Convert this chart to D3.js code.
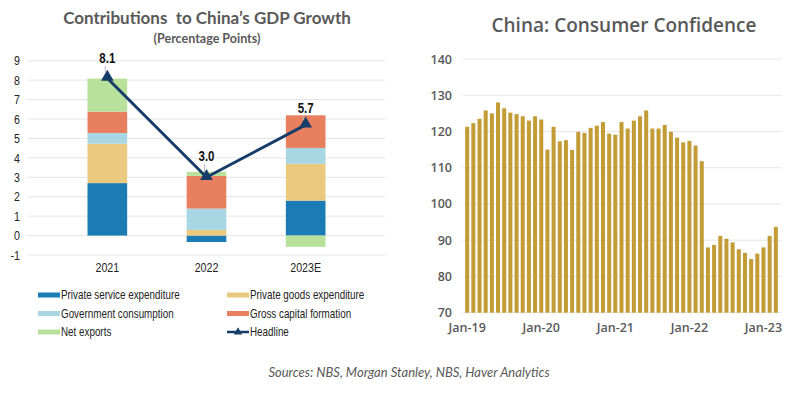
<!DOCTYPE html>
<html>
<head>
<meta charset="utf-8">
<script src="https://cdn.jsdelivr.net/npm/d3@7"></script>
<style>
  body { margin: 0; background: #fff; }
  svg { display: block; }
</style>
</head>
<body>
<svg id="chart" width="800" height="393"></svg>
<script>
// ---- left chart data: contributions to GDP growth (pp) ----
var years = ["2021", "2022", "2023E"];
var seriesNames = ["Private service expenditure", "Private goods expenditure",
                   "Government consumption", "Gross capital formation", "Net exports"];
var privateService = [2.7, -0.33, 1.8];
var privateGoods   = [2.03, 0.29, 1.89];
var govConsumption = [0.55, 1.1, 0.82];
var grossCapital   = [1.1, 1.68, 1.68];
var netExports     = [1.7, 0.21, -0.58];
var headline       = [8.1, 3.0, 5.7];
var leftTicks      = [-1, 0, 1, 2, 3, 4, 5, 6, 7, 8, 9];

// ---- right chart data: consumer confidence, Jan-19 .. Mar-23 ----
var confidence = [
  121.3, 122.3, 123.5, 125.8, 125.0, 128.0, 126.4, 125.2, 124.8, 124.2, 123.0, 124.2,
  123.3, 115.0, 121.3, 117.3, 117.6, 114.9, 119.9, 119.6, 121.0, 121.6, 122.6, 119.4,
  119.1, 122.6, 120.8, 123.0, 124.2, 125.8, 120.8, 120.8, 121.8, 119.9, 118.3, 117.0,
  117.4, 116.1, 111.8, 88.0, 88.7, 91.2, 90.4, 89.4, 87.5, 86.5, 84.8, 86.3,
  88.0, 91.2, 93.7
];
var rightTicks = [70, 80, 90, 100, 110, 120, 130, 140];
var rightTickLabels = ["Jan-19", "Jan-20", "Jan-21", "Jan-22", "Jan-23"];

var colors = ["#1b7cb5", "#ebc97e", "#a9d6e3", "#e8805f", "#b8e19c"];
var navy = "#163c69";
var grey = "#595959";
var sans = "'Liberation Sans', Arial, sans-serif";
var squeeze = "scale(0.82,1)";   // fake a narrow face, no narrow font installed

var svg = d3.select("#chart");

// ================= left chart =================
var x = d3.scaleBand().domain(years).range([28, 385]).padding(0.6);
var y = d3.scaleLinear().domain([-1, 9]).range([255, 60.7]);

svg.append("text")
  .attr("x", 207).attr("y", 24)
  .attr("text-anchor", "middle")
  .style("font-family", "Lato, sans-serif").style("font-weight", "bold")
  .style("font-size", "17px").style("fill", grey)
  .attr("xml:space", "preserve")
  .text("Contributions  to China\u2019s GDP Growth");

svg.append("text")
  .attr("x", 207).attr("y", 43)
  .attr("text-anchor", "middle")
  .style("font-family", "Lato, sans-serif").style("font-weight", "bold")
  .style("font-size", "12.5px").style("fill", grey)
  .text("(Percentage Points)");

// gridlines
svg.append("g").selectAll("line")
  .data(leftTicks)
  .enter().append("line")
  .attr("x1", 28).attr("x2", 385)
  .attr("y1", function(d) { return y(d); })
  .attr("y2", function(d) { return y(d); })
  .attr("stroke", "#e4e4e4").attr("stroke-width", 1);

var yAxis = svg.append("g")
  .attr("transform", "translate(20,0)")
  .call(d3.axisLeft(y).tickValues(leftTicks).tickFormat(String).tickSize(0).tickPadding(0));
yAxis.select(".domain").remove();
yAxis.selectAll("text")
  .attr("transform", squeeze)
  .style("font-family", sans).style("font-size", "13px").style("fill", "#222");

var xAxis = svg.append("g")
  .attr("transform", "translate(0,263)")
  .call(d3.axisBottom(x).tickSize(0).tickPadding(0));
xAxis.select(".domain").remove();
xAxis.selectAll("text")
  .attr("transform", squeeze)
  .style("font-family", sans).style("font-size", "13px").style("fill", "#222");

// stacked bars (positives up, negatives down)
var table = years.map(function(yr, i) {
  return [privateService[i], privateGoods[i], govConsumption[i], grossCapital[i], netExports[i]];
});
var segs = [];
table.forEach(function(vals, i) {
  var pos = 0, neg = 0;
  vals.forEach(function(v, k) {
    var y0, y1;
    if (v >= 0) { y0 = pos; y1 = pos + v; pos = y1; }
    else { y0 = neg; y1 = neg + v; neg = y1; }
    segs.push({ year: years[i], k: k, y0: y0, y1: y1 });
  });
});

svg.append("g").selectAll("rect")
  .data(segs)
  .enter().append("rect")
  .attr("x", function(d) { return x(d.year); })
  .attr("width", x.bandwidth())
  .attr("y", function(d) { return y(Math.max(d.y0, d.y1)); })
  .attr("height", function(d) { return Math.abs(y(d.y0) - y(d.y1)); })
  .attr("fill", function(d) { return colors[d.k]; });

// headline line
var line = d3.line()
  .x(function(d, i) { return x(years[i]) + x.bandwidth() / 2; })
  .y(function(d) { return y(d); });

svg.append("path")
  .datum(headline)
  .attr("d", line)
  .attr("fill", "none")
  .attr("stroke", navy)
  .attr("stroke-width", 3);

var tri = d3.symbol().type(d3.symbolTriangle).size(70);
svg.append("g").selectAll("path")
  .data(headline)
  .enter().append("path")
  .attr("d", tri)
  .attr("transform", function(d, i) {
    return "translate(" + (x(years[i]) + x.bandwidth() / 2) + "," + (y(d) - 1) + ")";
  })
  .attr("fill", navy);

// leader lines + labels
var labelGap = [15, 16, 12];
svg.append("g").selectAll("line")
  .data(headline)
  .enter().append("line")
  .attr("x1", function(d, i) { return x(years[i]) + x.bandwidth() / 2 - 2; })
  .attr("x2", function(d, i) { return x(years[i]) + x.bandwidth() / 2 - 2; })
  .attr("y1", function(d, i) { return y(d) - labelGap[i] + 3; })
  .attr("y2", function(d) { return y(d) - 5; })
  .attr("stroke", "#bbb").attr("stroke-width", 1);

svg.append("g").selectAll("text")
  .data(headline)
  .enter().append("text")
  .attr("transform", function(d, i) {
    return "translate(" + (x(years[i]) + x.bandwidth() / 2) + "," + (y(d) - labelGap[i]) + ") " + squeeze;
  })
  .attr("text-anchor", "middle")
  .style("font-family", sans).style("font-weight", "bold")
  .style("font-size", "14px").style("fill", "#111")
  .text(function(d) { return d.toFixed(1); });

// legend
var legendItems = seriesNames.concat(["Headline"]);
var legend = svg.append("g").selectAll("g")
  .data(legendItems)
  .enter().append("g")
  .attr("transform", function(d, i) {
    return "translate(" + (i % 2 === 0 ? 38 : 227) + "," + (295 + Math.floor(i / 2) * 18.5) + ")";
  });

legend.each(function(d, i) {
  var g = d3.select(this);
  if (i < 5) {
    g.append("rect").attr("x", 0).attr("y", -2.5).attr("width", 22).attr("height", 5)
      .attr("fill", colors[i]);
  } else {
    g.append("line").attr("x1", 0).attr("x2", 22).attr("y1", 0).attr("y2", 0)
      .attr("stroke", navy).attr("stroke-width", 2.5);
    g.append("path").attr("d", d3.symbol().type(d3.symbolTriangle).size(30))
      .attr("transform", "translate(11,0)").attr("fill", navy);
  }
  g.append("text").attr("transform", "translate(23,4) " + squeeze)
    .style("font-family", sans).style("font-size", "12px").style("fill", "#222")
    .text(d);
});

// ================= right chart =================
svg.append("text")
  .attr("x", 624).attr("y", 32)
  .attr("text-anchor", "middle")
  .style("font-family", "'Open Sans', sans-serif").style("font-weight", 600)
  .style("font-size", "19px").style("fill", grey)
  .text("China: Consumer Confidence");

var months = d3.range(confidence.length).map(function(i) {
  return d3.timeFormat("%b-%y")(new Date(2019, i, 1));
});

var x2 = d3.scaleBand().domain(months).range([463, 780]).padding(0.35);
var y2 = d3.scaleLinear().domain([70, 140]).range([312.7, 59]);

svg.append("g").selectAll("line")
  .data(rightTicks)
  .enter().append("line")
  .attr("x1", 463).attr("x2", 782)
  .attr("y1", function(d) { return y2(d); })
  .attr("y2", function(d) { return y2(d); })
  .attr("stroke", "#e6e6e6").attr("stroke-width", 1);

var y2Axis = svg.append("g")
  .attr("transform", "translate(452,0)")
  .call(d3.axisLeft(y2).tickValues(rightTicks).tickSize(0).tickPadding(0));
y2Axis.select(".domain").remove();
y2Axis.selectAll("text")
  .style("font-family", "'Open Sans', sans-serif").style("font-weight", 600)
  .style("font-size", "12.5px").style("fill", grey);

svg.append("g").selectAll("rect")
  .data(confidence)
  .enter().append("rect")
  .attr("x", function(d, i) { return x2(months[i]); })
  .attr("width", x2.bandwidth())
  .attr("y", function(d) { return y2(d); })
  .attr("height", function(d) { return y2(70) - y2(d); })
  .attr("fill", "#c49c36");

var x2Axis = svg.append("g")
  .attr("transform", "translate(0,323)")
  .call(d3.axisBottom(x2).tickValues(rightTickLabels).tickSize(0).tickPadding(0));
x2Axis.select(".domain").remove();
x2Axis.selectAll("text")
  .style("font-family", "'Open Sans', sans-serif").style("font-weight", 600)
  .style("font-size", "12.5px").style("fill", grey);

// sources
svg.append("text")
  .attr("x", 409).attr("y", 377)
  .attr("text-anchor", "middle")
  .style("font-family", "Lato, sans-serif").style("font-style", "italic")
  .style("font-size", "13px").style("fill", grey)
  .text("Sources: NBS, Morgan Stanley, NBS, Haver Analytics");
</script>
</body>
</html>
